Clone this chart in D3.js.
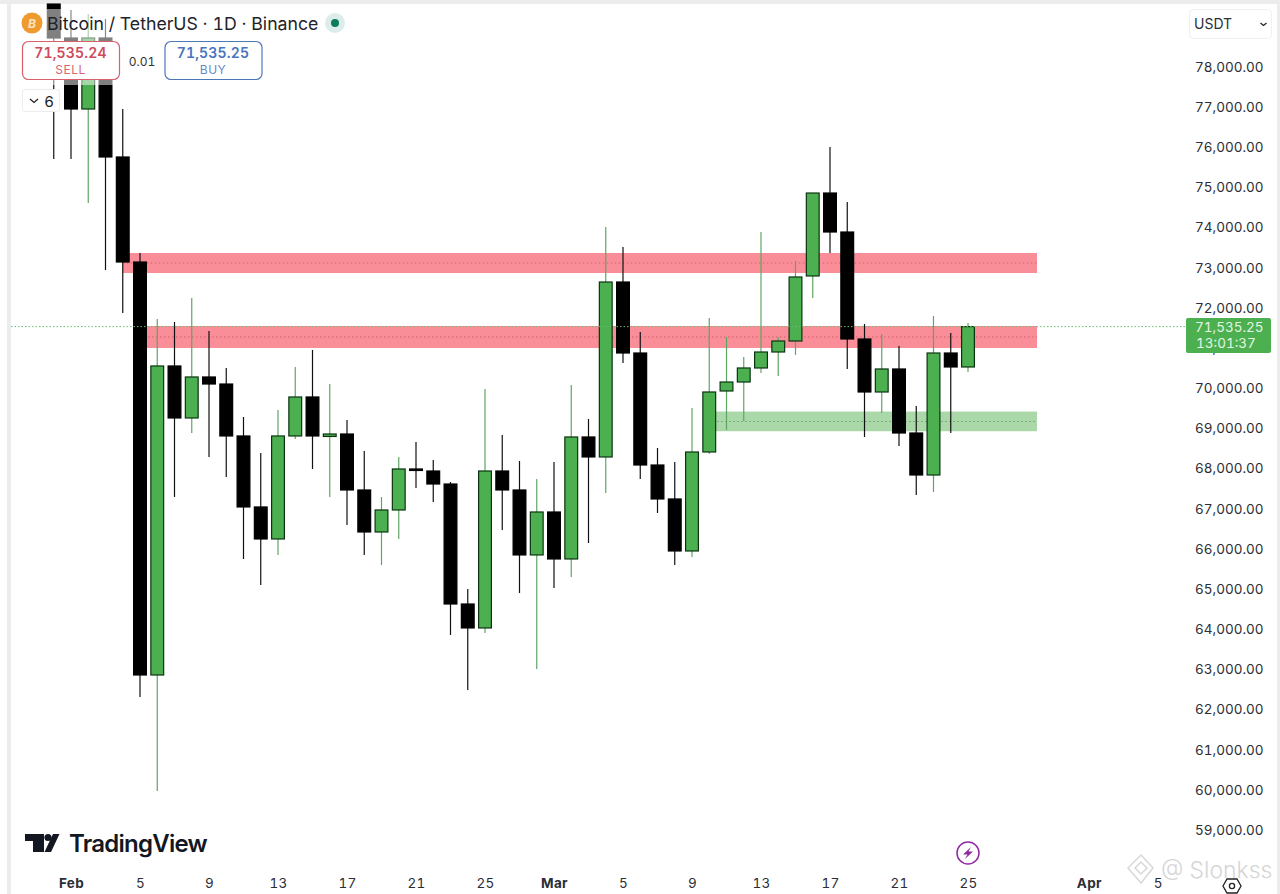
<!DOCTYPE html>
<html><head><meta charset="utf-8">
<script src="https://cdn.jsdelivr.net/npm/d3@7"></script>
<style>
html,body{margin:0;padding:0;background:#fff;overflow:hidden}
svg{display:block}
text{font-family:Inter,"Noto Sans",sans-serif;font-variant-numeric:tabular-nums;font-feature-settings:"tnum"}
</style></head><body>
<svg id="c" width="1280" height="894"></svg>
<script>
const firstDay = "2026-01-31";
const opens  = [79568,78722,76954,78722,75759,73144,62860,70555,69260,70281,70106,68812,67044,66247,68812,69783,68800,68861,67467,66421,66969,67990,67940,67616,64628,64031,67940,67467,65849,66919,65749,68787,68289,72646,70878,68089,67243,65948,68413,69932,70156,70505,70903,71177,72796,74862,73891,71227,69907,70480,68886,67840,70878,70530];
const closes = [78722,76954,78722,75759,73144,62860,70555,69260,70281,70106,68812,67044,66247,68812,69783,68812,68861,67467,66421,66969,67990,67953,67616,64628,64031,67940,67467,65849,66919,65749,68787,68289,72646,70878,68089,67243,65948,68413,69907,70156,70505,70903,71177,72771,74862,73891,71227,69907,70480,68886,67840,70878,70530,71535];
const highs  = [79568,79419,79319,79195,76954,73368,71725,71650,72248,71426,70505,69285,68388,69459,70530,70953,70106,69210,68438,67293,68289,68662,68214,67666,65002,69982,68836,68189,67741,68164,70082,69235,74016,73518,71401,68513,68164,69509,71750,71277,70779,73891,71277,73169,74862,76008,74638,71600,71351,71053,69559,71800,71376,71625];
const lows   = [75709,75709,74613,72945,71874,62313,59972,67293,68886,68289,67791,65749,65101,65849,68737,67990,67293,66596,65849,65600,66247,67517,67168,63857,62487,63906,66471,64902,63010,65027,65301,66147,67392,70629,67741,66894,65600,65799,68363,68961,69185,70380,70306,70829,72248,73368,70480,68787,69384,68563,67343,67417,68886,70405];
const priceTicks = [78000,77000,76000,75000,74000,73000,72000,71000,70000,69000,68000,67000,66000,65000,64000,63000,62000,61000,60000,59000];
const dateTicks = ["2026-02-01","2026-02-05","2026-02-09","2026-02-13","2026-02-17","2026-02-21","2026-02-25","2026-03-01","2026-03-05","2026-03-09","2026-03-13","2026-03-17","2026-03-21","2026-03-25","2026-04-01","2026-04-05"];
const zoneLow  = [72870,71003,68930];
const zoneHigh = [73368,71551,69420];
const zoneStart = ["2026-02-04","2026-02-05","2026-03-10"];
const zoneMid = [73119,71277,69172];
const zoneKind = ["supply","supply","demand"];
const lastPrice = 71535.25, sellPrice = "71,535.24", buyPrice = "71,535.25", spread = "0.01", countdown = "13:01:37";

const parse = d3.utcParse("%Y-%m-%d");
const day0 = parse(firstDay);
const dates = opens.map((_,i)=>d3.utcDay.offset(day0,i));
const x = d3.scaleUtc().domain([parse("2026-02-01"),parse("2026-03-25")]).range([71,968]);
const y = d3.scaleLinear().domain([59000,78000]).range([830,67]);
const svg = d3.select("#c");
const GREEN="#4CAF50", BLACK="#000";

// frame
[[0,0,1280,4],[7,0,4,894],[1277,0,3,894]].forEach(r=>svg.append("rect").attr("x",r[0]).attr("y",r[1]).attr("width",r[2]).attr("height",r[3]).attr("fill","#ececec"));

// zones
const zones = svg.append("g");
zoneLow.forEach((lo,i)=>{
  const col = zoneKind[i]==="supply" ? "#F98E98" : "#ABD8A8";
  const dot = zoneKind[i]==="supply" ? "#d4616d" : "#5fa863";
  zones.append("rect").attr("x",x(parse(zoneStart[i]))).attr("width",1037-x(parse(zoneStart[i])))
    .attr("y",y(zoneHigh[i])).attr("height",y(lo)-y(zoneHigh[i])).attr("fill",col);
  zones.append("line").attr("x1",x(parse(zoneStart[i]))).attr("x2",1037).attr("y1",y(zoneMid[i])).attr("y2",y(zoneMid[i]))
    .attr("stroke",dot).attr("stroke-width",1).attr("stroke-dasharray","1.5 2.5");
});

// candles
const bw = 12.8;
const cg = svg.append("g");
const idx = d3.range(opens.length);
cg.selectAll("line").data(idx).join("line")
  .attr("x1",i=>x(dates[i])).attr("x2",i=>x(dates[i]))
  .attr("y1",i=>y(highs[i])).attr("y2",i=>y(lows[i]))
  .attr("stroke",i=>closes[i]>=opens[i]?"#5FA563":"#111").attr("stroke-width",1.2);
cg.selectAll("rect").data(idx).join("rect")
  .attr("x",i=>x(dates[i])-bw/2).attr("width",bw)
  .attr("y",i=>y(Math.max(opens[i],closes[i])))
  .attr("height",i=>Math.max(1.5,Math.abs(y(opens[i])-y(closes[i]))))
  .attr("fill",i=>closes[i]>=opens[i]?GREEN:BLACK)
  .attr("stroke",i=>closes[i]>=opens[i]?"#0a3410":"#000").attr("stroke-width",1.2);

// last price line
svg.append("line").attr("x1",11).attr("x2",1186).attr("y1",y(lastPrice)).attr("y2",y(lastPrice))
  .attr("stroke","#6dbb70").attr("stroke-width",1).attr("stroke-dasharray","1.5 2");

// header veil
svg.append("rect").attr("x",20).attr("y",9).attr("width",330).attr("height",76).attr("fill","#fff").attr("opacity",0.5);

// axes
const yAxis = d3.axisRight(y).tickValues(priceTicks).tickSize(0).tickPadding(0).tickFormat(d3.format(",.2f"));
const yg = svg.append("g").attr("transform","translate(1195,0)").call(yAxis);
yg.select(".domain").remove();
yg.selectAll("text").style("font-size","13.5px").attr("fill","#2b2e36").style("font-family","Inter");

const xAxis = d3.axisBottom(x).tickValues(dateTicks.map(parse)).tickSize(0).tickPadding(0)
  .tickFormat(d=>d.getUTCDate()===1?d3.utcFormat("%b")(d):String(d.getUTCDate()));
const xg = svg.append("g").attr("transform","translate(0,878)").call(xAxis);
xg.select(".domain").remove();
xg.selectAll("text").style("font-size","13.5px").attr("fill","#2b2e36")
  .style("font-weight",d=>d.getUTCDate()===1?"700":"400").style("letter-spacing","0.3px");

// price tag
svg.append("rect").attr("x",1186).attr("y",318).attr("width",85).attr("height",35).attr("rx",2).attr("fill",GREEN);
svg.append("text").attr("x",1195).attr("y",331.5).attr("fill","#E3F5E3").style("font-size","13.5px").text(d3.format(",.2f")(lastPrice));
svg.append("text").attr("x",1196).attr("y",348).attr("fill","#E3F5E3").style("font-size","13.5px").text(countdown);

// title
svg.append("circle").attr("cx",32).attr("cy",23).attr("r",10.5).attr("fill","#EE9A2E");
svg.append("text").attr("x",32).attr("y",27.5).attr("text-anchor","middle").attr("fill","#fbe3c0").style("font-size","12px").style("font-weight","700").style("font-style","italic").text("B");
svg.append("text").attr("x",47).attr("y",30).attr("fill","#1f2229").style("font-size","17.7px").text("Bitcoin / TetherUS · 1D · Binance");
svg.append("circle").attr("cx",335).attr("cy",23).attr("r",10).attr("fill","#DCEDE9");
svg.append("circle").attr("cx",335).attr("cy",23).attr("r",4).attr("fill","#0B7A5E");

// sell / buy
function box(x0,w,border,col,a,b){
  svg.append("rect").attr("x",x0+.5).attr("y",41.5).attr("width",w).attr("height",38).attr("rx",6).attr("fill","#fff").attr("stroke",border).attr("stroke-width",1.2);
  svg.append("text").attr("x",x0+w/2).attr("y",58).attr("text-anchor","middle").attr("fill",col).style("font-size","14px").style("font-weight","600").style("letter-spacing","0.2px").text(a);
  svg.append("text").attr("x",x0+w/2).attr("y",73.5).attr("text-anchor","middle").attr("fill",col).attr("opacity",.85).style("font-size","12px").style("letter-spacing","0.5px").text(b);
}
box(22,97,"#D9606C","#CF4A5A",sellPrice,"SELL");
box(164.5,97,"#4C78B8","#4A74C0",buyPrice,"BUY");
svg.append("text").attr("x",142).attr("y",65.5).attr("text-anchor","middle").attr("fill","#333").style("font-size","12px").text(spread);

// collapse button
svg.append("rect").attr("x",22.5).attr("y",89.5).attr("width",37).attr("height",22).attr("rx",3).attr("fill","#fff").attr("stroke","#ececec");
svg.append("path").attr("d","M30 99l4 3.5 4-3.5").attr("fill","none").attr("stroke","#222").attr("stroke-width",1.3);
svg.append("text").attr("x",49).attr("y",106.5).attr("text-anchor","middle").attr("fill","#222").style("font-size","15px").text("6");

// currency
svg.append("rect").attr("x",1189.5).attr("y",9.5).attr("width",82).attr("height",29).attr("rx",4).attr("fill","#fff").attr("stroke","#efefef");
svg.append("text").attr("x",1194).attr("y",29).attr("fill","#2b2e36").style("font-size","14px").text("USDT");
svg.append("path").attr("d","M1260.5 23l3 2.5 3-2.5").attr("fill","none").attr("stroke","#222").attr("stroke-width",1.3);

// logo
const logo = svg.append("g").attr("fill","#131722");
logo.append("path").attr("d","M25 834H44V852H33V841H25Z");
logo.append("circle").attr("cx",48).attr("cy",837.5).attr("r",3.6);
logo.append("path").attr("d","M53 834H59.5L51 852H44.5Z");
logo.append("text").attr("x",69).attr("y",852).style("font-size","24px").style("font-weight","600").style("letter-spacing","-0.75px").text("TradingView");

// bolt
svg.append("circle").attr("cx",968).attr("cy",853).attr("r",11).attr("fill","#fff").attr("stroke","#8E2BA0").attr("stroke-width",1.5);
svg.append("path").attr("d","M971 847L963 854.5H967.5L965 859L973 851.5H968.5Z").attr("fill","#8E2BA0");

// settings
svg.append("path").attr("d","M1227 879H1237L1241 886L1237 893H1227L1223 886Z").attr("fill","#fff").attr("stroke","#222").attr("stroke-width",1.3);
svg.append("circle").attr("cx",1232).attr("cy",886).attr("r",2.6).attr("fill","none").attr("stroke","#222").attr("stroke-width",1.3);

// watermark
svg.append("path").attr("d","M1141 855L1153 868L1141 883L1128 868Z M1135 868L1141 862L1147 868L1141 874Z").attr("fill","none").attr("stroke","#d8d8d8").attr("stroke-width",1.5);
svg.append("text").attr("x",1161).attr("y",878).attr("fill","#cfcfcf").attr("opacity",.85).style("font-size","23px").style("font-weight","300").text("@ Slonkss");
</script>
</body></html>
